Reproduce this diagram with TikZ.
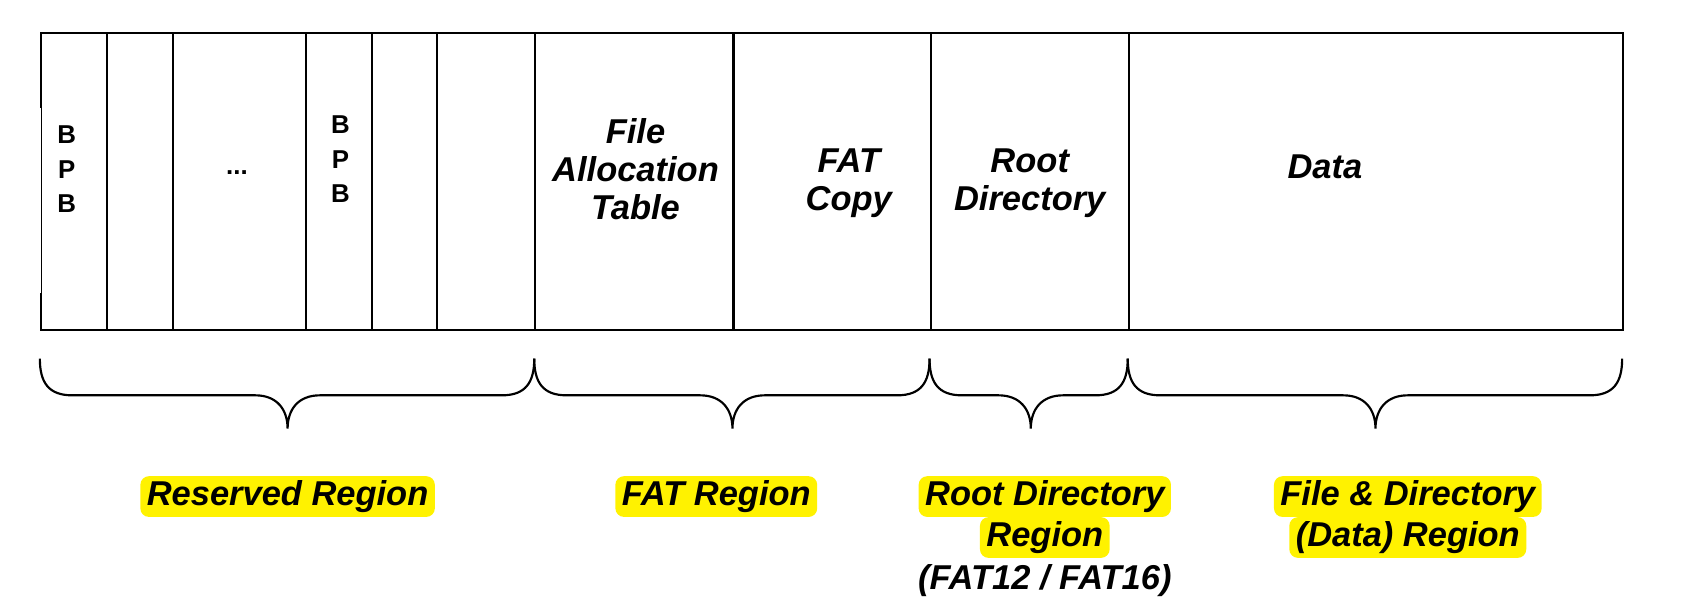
\documentclass[tikz,border=0pt]{standalone}
\usepackage{fontspec}
\setmainfont{Liberation Sans}
\begin{document}
\begin{tikzpicture}[x=0.5pt,y=-0.5pt,
  lab/.style={font=\fontsize{16}{20}\selectfont\bfseries\itshape, inner sep=0pt},
  hl/.style={lab, fill=yellow, rounded corners=4pt, inner xsep=3pt, inner ysep=2pt},
  bpb/.style={font=\fontsize{12}{16}\selectfont\bfseries, align=center, inner sep=0pt},
  box/.style={draw, line width=1pt},
  brace/.style={line width=1pt}]
\useasboundingbox (0,0) rectangle (1569,564.5);
% cells
\foreach \a/\b/\n in {37/98/c1,98/160/c2,160/283/c3,283/344/c4,344/405/c5,405/496/c6,496/680/c7,680/863/c8,863/1047/c9,1047/1506/c10}
  \node[box, minimum width=(\b-\a)*0.5pt, minimum height=275*0.5pt, anchor=north west, inner sep=0pt] (\n) at (\a,30) {};
\fill[white] (36,100) rectangle (38.5,272);
% texts
\node[bpb] (t1) at (62,157) {B\\P\\B};
\node[bpb] (t2) at (316,148) {B\\P\\B};
\node[bpb] (t3) at (220,160) {...};
\node[lab, align=center, font=\fontsize{16}{17.5}\selectfont\bfseries\itshape] (t4) at (590,157) {File\\Allocation\\Table};
\node[lab, align=center, font=\fontsize{16}{17.5}\selectfont\bfseries\itshape] (t5) at (788,170) {FAT\\Copy};
\node[lab, align=center, font=\fontsize{16}{17.5}\selectfont\bfseries\itshape] (t6) at (956,170) {Root\\Directory};
\node[lab] (t7) at (1230,155) {Data};
% braces
\foreach \l/\t/\r in {37/267/496,496/680/863,863/957/1047,1047/1277/1506}{
  \draw[brace] (\l,333) .. controls (\l,355) and (\l+8,367) .. (\l+30,367)
    -- (\t-30,367) .. controls (\t-10,367) and (\t,380) .. (\t,398)
    .. controls (\t,380) and (\t+10,367) .. (\t+30,367)
    -- (\r-30,367) .. controls (\r-8,367) and (\r,355) .. (\r,333);
}
% region labels
\node[hl] (r1) at (267,461) {Reserved Region};
\node[hl] (r2) at (665,461) {FAT Region};
\node[hl] (r3a) at (970,461) {Root Directory};
\node[hl] (r3b) at (970,499) {Region};
\node[lab] (r3c) at (970,539) {(FAT12 / FAT16)};
\node[hl] (r4a) at (1307,461) {File \& Directory};
\node[hl] (r4b) at (1307,499) {(Data) Region};
\end{tikzpicture}
\end{document}
